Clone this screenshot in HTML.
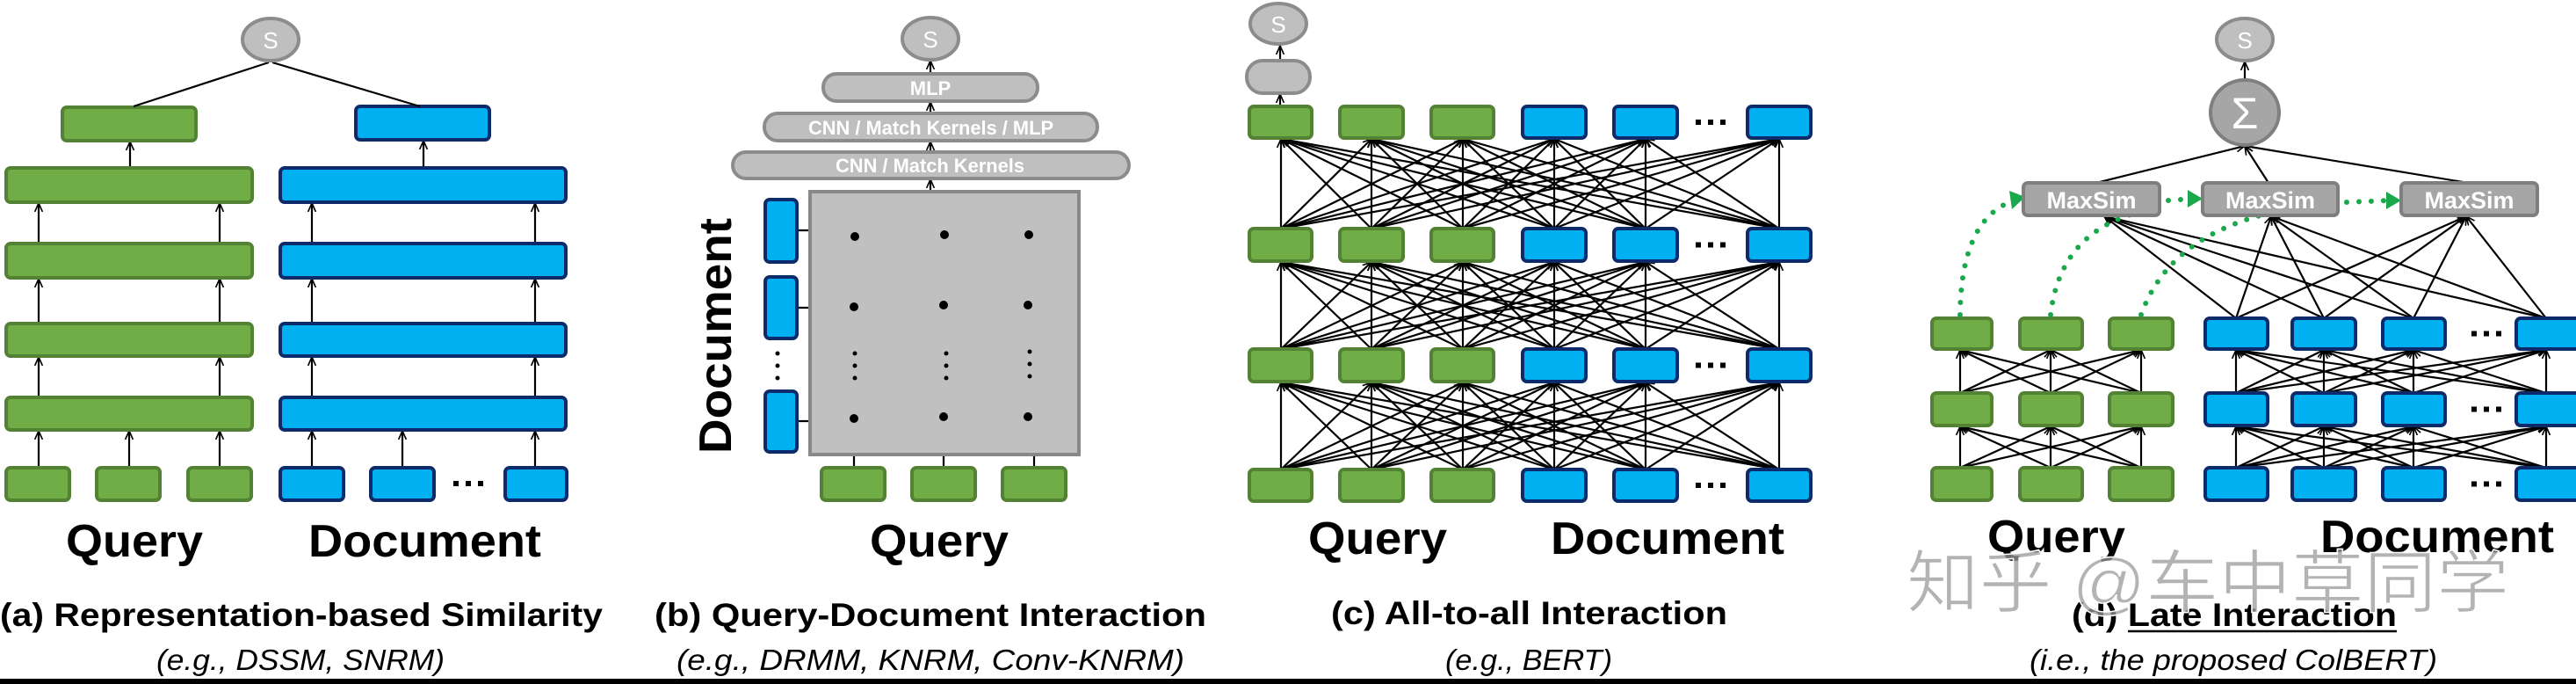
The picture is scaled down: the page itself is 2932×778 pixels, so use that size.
<!DOCTYPE html>
<html><head><meta charset="utf-8">
<style>
html,body{margin:0;padding:0;background:#fff;}
svg{display:block;}
text{font-family:"Liberation Sans",sans-serif;}
</style></head>
<body>
<svg id="s" width="2932" height="778" viewBox="0 0 2932 778" xmlns="http://www.w3.org/2000/svg">
<defs>
<marker id="ar" viewBox="0 0 10 10" refX="9" refY="5" markerWidth="5" markerHeight="5" orient="auto"><path d="M0,1 L9,5 L0,9" fill="none" stroke="#000" stroke-width="1.5"/></marker>
</defs>
<rect width="2932" height="778" fill="#fff"/>
<g id="lines" stroke="#000" stroke-width="2.2" fill="none"></g>
<g id="boxes"></g>

<!-- Panel a -->
<g stroke="#000" stroke-width="2.2">
<line x1="152" y1="121" x2="306" y2="71"/><line x1="478" y1="121" x2="310" y2="71"/>
</g>
<ellipse cx="308" cy="45" rx="32" ry="24" fill="#bfbfbf" stroke="#8c8c8c" stroke-width="4"/>
<text x="308" y="55" font-size="26" fill="#fff" text-anchor="middle">S</text>

<!-- Panel b -->
<ellipse cx="1059" cy="44" rx="32" ry="24" fill="#bfbfbf" stroke="#8c8c8c" stroke-width="4"/>
<text x="1059" y="54" font-size="26" fill="#fff" text-anchor="middle">S</text>
<rect x="937" y="84" width="244" height="31" rx="15" fill="#bfbfbf" stroke="#8c8c8c" stroke-width="4"/>
<text x="1059" y="108" font-size="22" font-weight="bold" fill="#fff" text-anchor="middle">MLP</text>
<rect x="870" y="129" width="379" height="31" rx="15" fill="#bfbfbf" stroke="#8c8c8c" stroke-width="4"/>
<text x="920" y="153" font-size="22" font-weight="bold" fill="#fff" textLength="279" lengthAdjust="spacingAndGlyphs">CNN / Match Kernels / MLP</text>
<rect x="834" y="173" width="451" height="30" rx="15" fill="#bfbfbf" stroke="#8c8c8c" stroke-width="4"/>
<text x="951" y="196" font-size="22" font-weight="bold" fill="#fff" textLength="215" lengthAdjust="spacingAndGlyphs">CNN / Match Kernels</text>
<rect x="922" y="218" width="306" height="299" fill="#c0c0c0" stroke="#888" stroke-width="4"/>
<g fill="#000">
<circle cx="973" cy="269" r="5"/><circle cx="1075" cy="267" r="5"/><circle cx="1171" cy="267" r="5"/>
<circle cx="972" cy="349" r="5"/><circle cx="1074" cy="347" r="5"/><circle cx="1170" cy="347" r="5"/>
<circle cx="972" cy="476" r="5"/><circle cx="1074" cy="474" r="5"/><circle cx="1170" cy="474" r="5"/>
<circle cx="973" cy="402" r="2.5"/><circle cx="973" cy="416" r="2.5"/><circle cx="973" cy="430" r="2.5"/>
<circle cx="1077" cy="402" r="2.5"/><circle cx="1077" cy="416" r="2.5"/><circle cx="1077" cy="430" r="2.5"/>
<circle cx="1172" cy="400" r="2.5"/><circle cx="1172" cy="414" r="2.5"/><circle cx="1172" cy="428" r="2.5"/>
<circle cx="885" cy="402" r="2.5"/><circle cx="885" cy="416" r="2.5"/><circle cx="885" cy="430" r="2.5"/>
</g>
<text transform="translate(832,382) rotate(-90)" font-size="52" font-weight="bold" text-anchor="middle" textLength="268" lengthAdjust="spacingAndGlyphs">Document</text>

<!-- Panel c -->
<ellipse cx="1455" cy="27" rx="32" ry="23" fill="#bfbfbf" stroke="#8c8c8c" stroke-width="4"/>
<text x="1455" y="37" font-size="26" fill="#fff" text-anchor="middle">S</text>
<rect x="1419" y="69" width="72" height="37" rx="18" fill="#bfbfbf" stroke="#8c8c8c" stroke-width="4"/>

<!-- Panel d -->
<ellipse cx="2555" cy="45" rx="32" ry="24" fill="#bfbfbf" stroke="#8c8c8c" stroke-width="4"/>
<text x="2555" y="55" font-size="26" fill="#fff" text-anchor="middle">S</text>
<ellipse cx="2555" cy="128" rx="39" ry="37" fill="#a6a6a6" stroke="#7f7f7f" stroke-width="4"/>
<text x="2555" y="146" font-size="50" fill="#fff" text-anchor="middle" font-family="DejaVu Serif, serif">Σ</text>
<g fill="none" stroke="#1aa84c" stroke-width="6" stroke-linecap="round" stroke-dasharray="0 14">
<path d="M2231,358 Q2232,245 2296,227"/>
<path d="M2334,358 Q2345,262 2440,240"/>
<path d="M2437,358 Q2470,265 2595,240"/>
<path d="M2468,228 L2495,226"/>
<path d="M2671,230 L2720,228"/>
</g>
<g fill="#1aa84c">
<path d="M2287,217 L2305,224 L2290,238 z"/>
<path d="M2490,216 L2507,226 L2490,236 z"/>
<path d="M2716,218 L2733,228 L2716,238 z"/>
</g>
<g id="maxs"></g>

<!-- Labels -->
<g font-weight="bold" font-size="52" fill="#000">
<text x="75" y="633" textLength="156" lengthAdjust="spacingAndGlyphs">Query</text>
<text x="351" y="633" textLength="265" lengthAdjust="spacingAndGlyphs">Document</text>
<text x="990" y="633" textLength="158" lengthAdjust="spacingAndGlyphs">Query</text>
<text x="1489" y="630" textLength="158" lengthAdjust="spacingAndGlyphs">Query</text>
<text x="1765" y="630" textLength="266" lengthAdjust="spacingAndGlyphs">Document</text>
<text x="2262" y="628" textLength="157" lengthAdjust="spacingAndGlyphs">Query</text>
<text x="2641" y="628" textLength="266" lengthAdjust="spacingAndGlyphs">Document</text>
</g>
<g font-weight="bold" font-size="37" fill="#000">
<text x="0" y="712" textLength="686" lengthAdjust="spacingAndGlyphs">(a) Representation-based Similarity</text>
<text x="745" y="712" textLength="628" lengthAdjust="spacingAndGlyphs">(b) Query-Document Interaction</text>
<text x="1515" y="710" textLength="451" lengthAdjust="spacingAndGlyphs">(c) All-to-all Interaction</text>
<text x="2358" y="712" textLength="370" lengthAdjust="spacingAndGlyphs">(d) Late Interaction</text>
</g>
<line x1="2422" y1="718" x2="2728" y2="718" stroke="#000" stroke-width="2.5"/>
<g font-style="italic" font-size="33" fill="#000">
<text x="178" y="762" textLength="328" lengthAdjust="spacingAndGlyphs">(e.g., DSSM, SNRM)</text>
<text x="770" y="762" textLength="578" lengthAdjust="spacingAndGlyphs">(e.g., DRMM, KNRM, Conv-KNRM)</text>
<text x="1645" y="762" textLength="190" lengthAdjust="spacingAndGlyphs">(e.g., BERT)</text>
<text x="2310" y="762" textLength="464" lengthAdjust="spacingAndGlyphs">(i.e., the proposed ColBERT)</text>
</g>
<text x="2170" y="690" font-size="78" fill="#9a9a9a" fill-opacity="0.75" stroke="#fff" stroke-width="1.5" font-family="Noto Sans CJK SC, sans-serif" textLength="686" lengthAdjust="spacingAndGlyphs">知乎 @车中草同学</text>
<rect x="0" y="772" width="2932" height="6" fill="#000"/>
</svg>
<script>
var NS="http://www.w3.org/2000/svg";
var L=document.getElementById('lines'),B=document.getElementById('boxes'),M=document.getElementById('maxs');
function ln(x1,y1,x2,y2,arrow,g){var e=document.createElementNS(NS,'line');e.setAttribute('x1',x1);e.setAttribute('y1',y1);e.setAttribute('x2',x2);e.setAttribute('y2',y2);if(arrow!==false)e.setAttribute('marker-end','url(#ar)');(g||L).appendChild(e);}
function box(x1,y1,x2,y2,c){var e=document.createElementNS(NS,'rect');e.setAttribute('x',x1);e.setAttribute('y',y1);e.setAttribute('width',x2-x1);e.setAttribute('height',y2-y1);e.setAttribute('rx',5);
 if(c=='g'){e.setAttribute('fill','#70ad47');e.setAttribute('stroke','#548235');}else{e.setAttribute('fill','#00b0f0');e.setAttribute('stroke','#0d2a6b');}
 e.setAttribute('stroke-width',4);B.appendChild(e);}
function dotsH(x,y){for(var i=-1;i<=1;i++){var c=document.createElementNS(NS,'rect');c.setAttribute('x',x+i*14-3);c.setAttribute('y',y-3);c.setAttribute('width',6);c.setAttribute('height',6);c.setAttribute('fill','#000');B.appendChild(c);}}
// Panel a
var ay=[[191,230],[277,316],[368,405],[452,489]];
ay.forEach(function(r){box(7,r[0],287,r[1],'g');box(319,r[0],644,r[1],'b');});
box(71,122,223,160,'g');box(405,121,557,159,'b');
[[7,79],[110,182],[214,286]].forEach(function(x){box(x[0],532,x[1],569,'g');});
[[319,391],[422,494],[575,645]].forEach(function(x){box(x[0],532,x[1],569,'b');});
dotsH(533,550);
ln(148,191,148,161);ln(482,191,482,160);
[[230,277],[316,368],[405,452]].forEach(function(g){[44,250,355,609].forEach(function(x){ln(x,g[1],x,g[0]+1);});});
[44,147,250,355,458,609].forEach(function(x){ln(x,532,x,490);});
// Panel b
[[227,298],[315,385],[445,514]].forEach(function(r,i){box(871,r[0],907,r[1],'b');var y=[262,350,479][i];ln(907,y,937,y);});
[[935,1007],[1038,1110],[1141,1213]].forEach(function(x,i){box(x[0],532,x[1],569,'g');var xx=[972,1074,1177][i];ln(xx,532,xx,505);});
ln(1059,218,1059,204);ln(1059,129,1059,116);ln(1059,84,1059,69);ln(1059,173,1059,161);
// Panel c
var cy=[[121,157],[260,297],[397,434],[534,570]];
var cx=[[1422,1493],[1525,1597],[1629,1700],[1733,1805],[1837,1909],[1989,2061]];
var cc=[1458,1561,1665,1769,1873,2025];
for(var k=1;k<4;k++){for(var i=0;i<6;i++)for(var j=0;j<6;j++)ln(cc[i],cy[k][0],cc[j],cy[k-1][1]+1);}
cy.forEach(function(r){cx.forEach(function(x,i){box(x[0],r[0],x[1],r[1],i<3?'g':'b');});dotsH(1947,(r[0]+r[1])/2);});
ln(1457,121,1457,107);ln(1457,69,1457,52);
// Panel d
var qy=[[362,397],[447,484],[532,569]];
var qx=[[2199,2267],[2299,2370],[2401,2473]],qc=[2231,2334,2437];
var dx=[[2510,2581],[2609,2681],[2712,2783],[2864,2940]],dc=[2545,2645,2747,2898];
for(var k=1;k<3;k++){
 for(var i=0;i<3;i++)for(var j=0;j<3;j++)ln(qc[i],qy[k][0],qc[j],qy[k-1][1]+1);
 for(var i=0;i<4;i++)for(var j=0;j<4;j++)ln(dc[i],qy[k][0],dc[j],qy[k-1][1]+1);
}
var mb=[2395,2585,2807];
mb.forEach(function(m){dc.forEach(function(d){ln(d,362,m,246);});});
[2386,2582,2809].forEach(function(t){ln(t,208,2555,166);});
ln(2555,90,2555,70);
qy.forEach(function(r){qx.forEach(function(x){box(x[0],r[0],x[1],r[1],'g');});dx.forEach(function(x){box(x[0],r[0],x[1],r[1],'b');});dotsH(2830,(r[0]+r[1])/2);});
[[2303,2458],[2507,2661],[2733,2888]].forEach(function(x){var e=document.createElementNS(NS,'rect');e.setAttribute('x',x[0]);e.setAttribute('y',208);e.setAttribute('width',x[1]-x[0]);e.setAttribute('height',37);e.setAttribute('rx',5);e.setAttribute('fill','#a6a6a6');e.setAttribute('stroke','#7f7f7f');e.setAttribute('stroke-width',4);M.appendChild(e);
 var t=document.createElementNS(NS,'text');t.setAttribute('x',(x[0]+x[1])/2);t.setAttribute('y',237);t.setAttribute('font-size',27);t.setAttribute('font-weight','bold');t.setAttribute('fill','#fff');t.setAttribute('text-anchor','middle');t.textContent='MaxSim';M.appendChild(t);});
</script>
</body></html>
